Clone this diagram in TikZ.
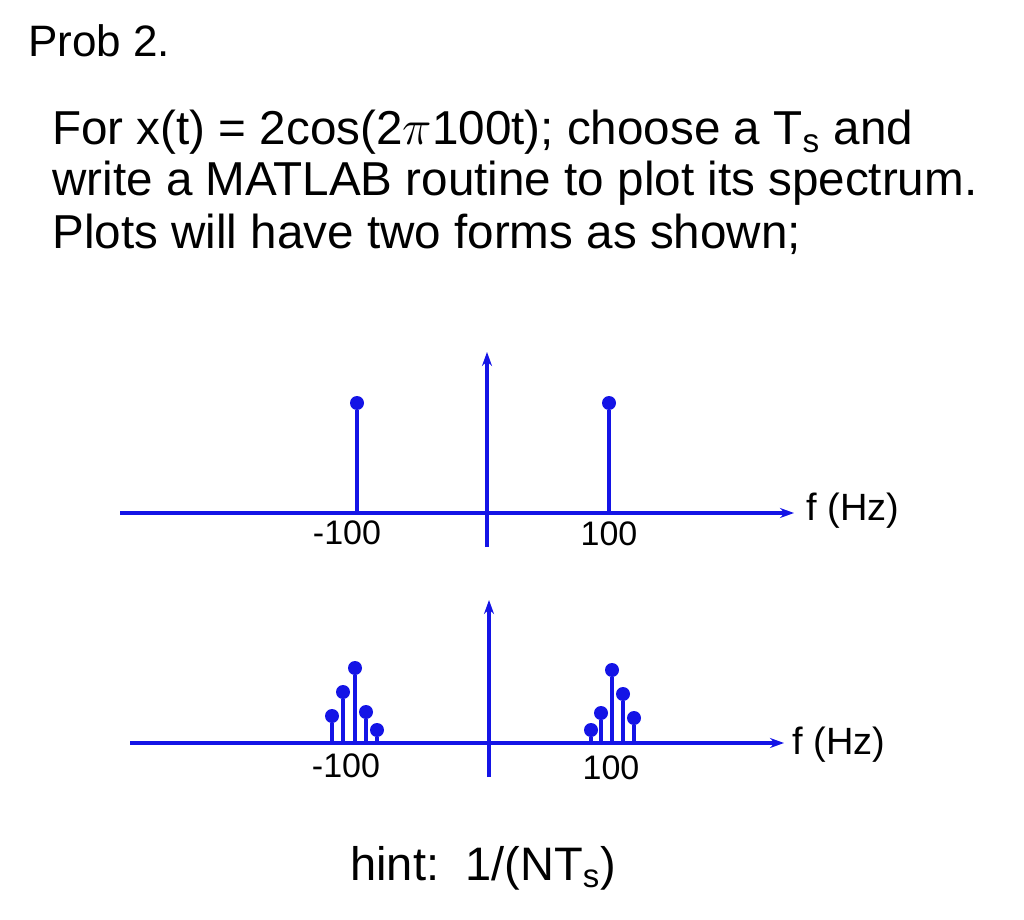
\documentclass[tikz,border=0pt]{standalone}
\usepackage{fontspec}
\setmainfont{Liberation Sans}
\usetikzlibrary{arrows.meta}
\definecolor{plotblue}{RGB}{20,20,230}
\tikzset{axis/.style={plotblue, line width=1.8pt, -{Stealth[length=7pt,width=5pt]}},
  stem/.style={plotblue, line width=1.8pt},
  dot/.style={circle, fill=plotblue, inner sep=0pt, minimum size=7pt},
  tick/.style={font=\fontsize{17}{19}\selectfont, inner sep=1pt},
  body/.style={font=\fontsize{23.8}{26}\selectfont, anchor=base west, inner sep=0pt}}
\begin{document}
\begin{tikzpicture}[x=0.5pt, y=-0.5pt]
    \useasboundingbox (0,0) rectangle (1024,920);

    % Text
    \node (prob) [body, font=\fontsize{22}{24}\selectfont] at (28,57) {Prob 2.};
    \node (l1) [body] at (52,145) {For x(t) = 2cos(2$\pi$100t); choose a T\textsubscript{s} and};
    \node (l2) [body] at (52,196) {write a MATLAB routine to plot its spectrum.};
    \node (l3) [body] at (52,249) {Plots will have two forms as shown;};
    \node (hint) [body, font=\fontsize{23.5}{26}\selectfont] at (350,880) {hint:\ \ 1/(NT\textsubscript{s})};

    % Upper plot
    \coordinate (ua0) at (120,513);
    \coordinate (ua1) at (794,513);
    \coordinate (uv0) at (487,547);
    \coordinate (uv1) at (487,352);
    \draw [axis] (ua0) -- (ua1);
    \draw [axis] (uv0) -- (uv1);
    \node (uf) [tick, anchor=west, font=\fontsize{19}{21}\selectfont] at (804,511) {f (Hz)};
    \foreach \xx/\nm in {357/um, 609/up} {
        \coordinate (\nm b) at (\xx,513);
        \node (\nm) [dot] at (\xx,403) {};
        \draw [stem] (\nm b) -- (\nm);
    }
    \node (ulm) [tick] at (347,533) {-100};
    \node (ulp) [tick] at (609,534) {100};

    % Lower plot
    \coordinate (la0) at (130,743);
    \coordinate (la1) at (784,743);
    \coordinate (lv0) at (489,777);
    \coordinate (lv1) at (489,600);
    \draw [axis] (la0) -- (la1);
    \draw [axis] (lv0) -- (lv1);
    \node (lf) [tick, anchor=west, font=\fontsize{19}{21}\selectfont] at (790,745) {f (Hz)};
    \foreach \xx/\yy/\nm in {332/716/a, 343/692/b, 355/668/c, 366/712/d, 377/730/e,
                             591/730/f, 601/713/g, 612/670/h, 623/694/i, 634/718/j} {
        \coordinate (s\nm b) at (\xx,743);
        \node (s\nm) [dot] at (\xx,\yy) {};
        \draw [stem] (s\nm b) -- (s\nm);
    }
    \node (llm) [tick] at (346,766) {-100};
    \node (llp) [tick] at (611,768) {100};

\end{tikzpicture}
\end{document}
